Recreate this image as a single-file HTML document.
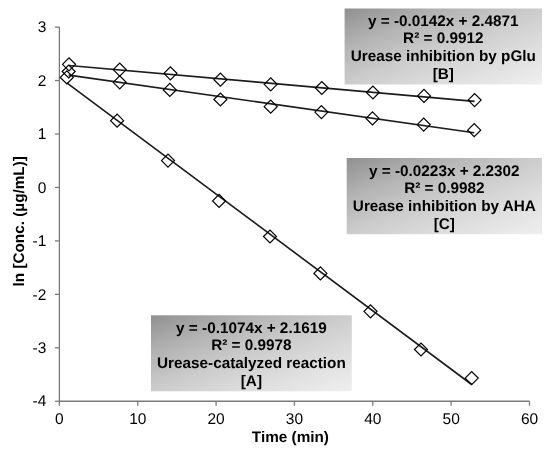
<!DOCTYPE html>
<html><head><meta charset="utf-8"><style>
html,body{margin:0;padding:0;background:#fff;}
svg{display:block;filter:blur(0.35px);}
text{font-family:"Liberation Sans",sans-serif;text-rendering:geometricPrecision;}
</style></head><body>
<svg width="550" height="453" viewBox="0 0 550 453">
<defs>
<linearGradient id="g" x1="0" y1="0" x2="1" y2="1">
<stop offset="0" stop-color="#909090"/>
<stop offset="0.25" stop-color="#b2b2b2"/>
<stop offset="0.5" stop-color="#cccccc"/>
<stop offset="0.75" stop-color="#dfdfdf"/>
<stop offset="1" stop-color="#efefef"/>
</linearGradient>
</defs>
<rect width="550" height="453" fill="#fff"/>

<g stroke="#7a7a7a" stroke-width="1.3" fill="none">
<line x1="59.4" y1="27.1" x2="59.4" y2="401.25"/>
<line x1="59.4" y1="401.25" x2="529.5" y2="401.25"/>
<line x1="54.9" y1="401.25" x2="59.4" y2="401.25"/>
<line x1="54.9" y1="347.80" x2="59.4" y2="347.80"/>
<line x1="54.9" y1="294.35" x2="59.4" y2="294.35"/>
<line x1="54.9" y1="240.90" x2="59.4" y2="240.90"/>
<line x1="54.9" y1="187.45" x2="59.4" y2="187.45"/>
<line x1="54.9" y1="134.00" x2="59.4" y2="134.00"/>
<line x1="54.9" y1="80.55" x2="59.4" y2="80.55"/>
<line x1="54.9" y1="27.10" x2="59.4" y2="27.10"/>
<line x1="59.40" y1="401.25" x2="59.40" y2="405.75"/>
<line x1="137.75" y1="401.25" x2="137.75" y2="405.75"/>
<line x1="216.10" y1="401.25" x2="216.10" y2="405.75"/>
<line x1="294.45" y1="401.25" x2="294.45" y2="405.75"/>
<line x1="372.80" y1="401.25" x2="372.80" y2="405.75"/>
<line x1="451.15" y1="401.25" x2="451.15" y2="405.75"/>
<line x1="529.50" y1="401.25" x2="529.50" y2="405.75"/>
</g>
<g font-size="15.5" fill="#000">
<text x="46.4" y="406.40" text-anchor="end">-4</text>
<text x="46.4" y="352.95" text-anchor="end">-3</text>
<text x="46.4" y="299.50" text-anchor="end">-2</text>
<text x="46.4" y="246.05" text-anchor="end">-1</text>
<text x="46.4" y="192.60" text-anchor="end">0</text>
<text x="46.4" y="139.15" text-anchor="end">1</text>
<text x="46.4" y="85.70" text-anchor="end">2</text>
<text x="46.4" y="32.25" text-anchor="end">3</text>
<text x="59.40" y="423.5" text-anchor="middle">0</text>
<text x="137.75" y="423.5" text-anchor="middle">10</text>
<text x="216.10" y="423.5" text-anchor="middle">20</text>
<text x="294.45" y="423.5" text-anchor="middle">30</text>
<text x="372.80" y="423.5" text-anchor="middle">40</text>
<text x="451.15" y="423.5" text-anchor="middle">50</text>
<text x="529.50" y="423.5" text-anchor="middle">60</text>
</g>
<text x="290.4" y="441.5" font-size="15.3" font-weight="bold" text-anchor="middle">Time (min)</text>
<text transform="translate(23.7,221.3) rotate(-90)" font-size="15.3" font-weight="bold" text-anchor="middle">ln [Conc. (µg/mL)]</text>
<g stroke="#1c1c1c" stroke-width="1.65" fill="none">
<line x1="66.8" y1="82.82" x2="471.7" y2="384.49"/>
<line x1="69.0" y1="65.49" x2="474.6" y2="101.32"/>
<line x1="68.7" y1="75.19" x2="474.2" y2="132.70"/>
</g>
<g stroke="#000" stroke-width="1.2" fill="none">
<path d="M60.30,77.40L66.80,70.90L73.30,77.40L66.80,83.90Z"/>
<path d="M110.60,120.70L117.10,114.20L123.60,120.70L117.10,127.20Z"/>
<path d="M161.50,160.60L168.00,154.10L174.50,160.60L168.00,167.10Z"/>
<path d="M212.60,200.90L219.10,194.40L225.60,200.90L219.10,207.40Z"/>
<path d="M263.50,236.50L270.00,230.00L276.50,236.50L270.00,243.00Z"/>
<path d="M313.90,273.40L320.40,266.90L326.90,273.40L320.40,279.90Z"/>
<path d="M364.00,311.30L370.50,304.80L377.00,311.30L370.50,317.80Z"/>
<path d="M414.50,349.50L421.00,343.00L427.50,349.50L421.00,356.00Z"/>
<path d="M465.20,378.10L471.70,371.60L478.20,378.10L471.70,384.60Z"/>
<path d="M62.50,64.30L69.00,57.80L75.50,64.30L69.00,70.80Z"/>
<path d="M113.20,69.60L119.70,63.10L126.20,69.60L119.70,76.10Z"/>
<path d="M163.90,73.30L170.40,66.80L176.90,73.30L170.40,79.80Z"/>
<path d="M213.90,79.70L220.40,73.20L226.90,79.70L220.40,86.20Z"/>
<path d="M264.20,84.30L270.70,77.80L277.20,84.30L270.70,90.80Z"/>
<path d="M315.30,88.00L321.80,81.50L328.30,88.00L321.80,94.50Z"/>
<path d="M366.40,92.50L372.90,86.00L379.40,92.50L372.90,99.00Z"/>
<path d="M417.50,95.90L424.00,89.40L430.50,95.90L424.00,102.40Z"/>
<path d="M468.10,100.10L474.60,93.60L481.10,100.10L474.60,106.60Z"/>
<path d="M62.20,71.50L68.70,65.00L75.20,71.50L68.70,78.00Z"/>
<path d="M113.20,82.30L119.70,75.80L126.20,82.30L119.70,88.80Z"/>
<path d="M163.30,89.90L169.80,83.40L176.30,89.90L169.80,96.40Z"/>
<path d="M213.90,99.50L220.40,93.00L226.90,99.50L220.40,106.00Z"/>
<path d="M264.20,106.70L270.70,100.20L277.20,106.70L270.70,113.20Z"/>
<path d="M314.90,112.10L321.40,105.60L327.90,112.10L321.40,118.60Z"/>
<path d="M366.00,118.40L372.50,111.90L379.00,118.40L372.50,124.90Z"/>
<path d="M417.20,124.60L423.70,118.10L430.20,124.60L423.70,131.10Z"/>
<path d="M467.70,130.20L474.20,123.70L480.70,130.20L474.20,136.70Z"/>
</g>
<rect x="344.6" y="8.5" width="197.39999999999998" height="76.0" fill="url(#g)"/><g font-size="15.3" font-weight="bold" text-anchor="middle" fill="#000"><text x="443.3" y="25.7">y = -0.0142x + 2.4871</text><text x="443.3" y="43.1">R² = 0.9912</text><text x="443.3" y="60.6">Urease inhibition by pGlu</text><text x="443.3" y="78.5">[B]</text></g>
<rect x="346.7" y="158" width="195.3" height="76.19999999999999" fill="url(#g)"/><g font-size="15.3" font-weight="bold" text-anchor="middle" fill="#000"><text x="444.35" y="175.7">y = -0.0223x + 2.2302</text><text x="444.35" y="193.1">R² = 0.9982</text><text x="444.35" y="210.6">Urease inhibition by AHA</text><text x="444.35" y="228.5">[C]</text></g>
<rect x="151" y="315.3" width="200.8" height="76.0" fill="url(#g)"/><g font-size="15.3" font-weight="bold" text-anchor="middle" fill="#000"><text x="251.4" y="332.9">y = -0.1074x + 2.1619</text><text x="251.4" y="350.3">R² = 0.9978</text><text x="251.4" y="367.8">Urease-catalyzed reaction</text><text x="251.4" y="385.7">[A]</text></g>
</svg>
</body></html>
